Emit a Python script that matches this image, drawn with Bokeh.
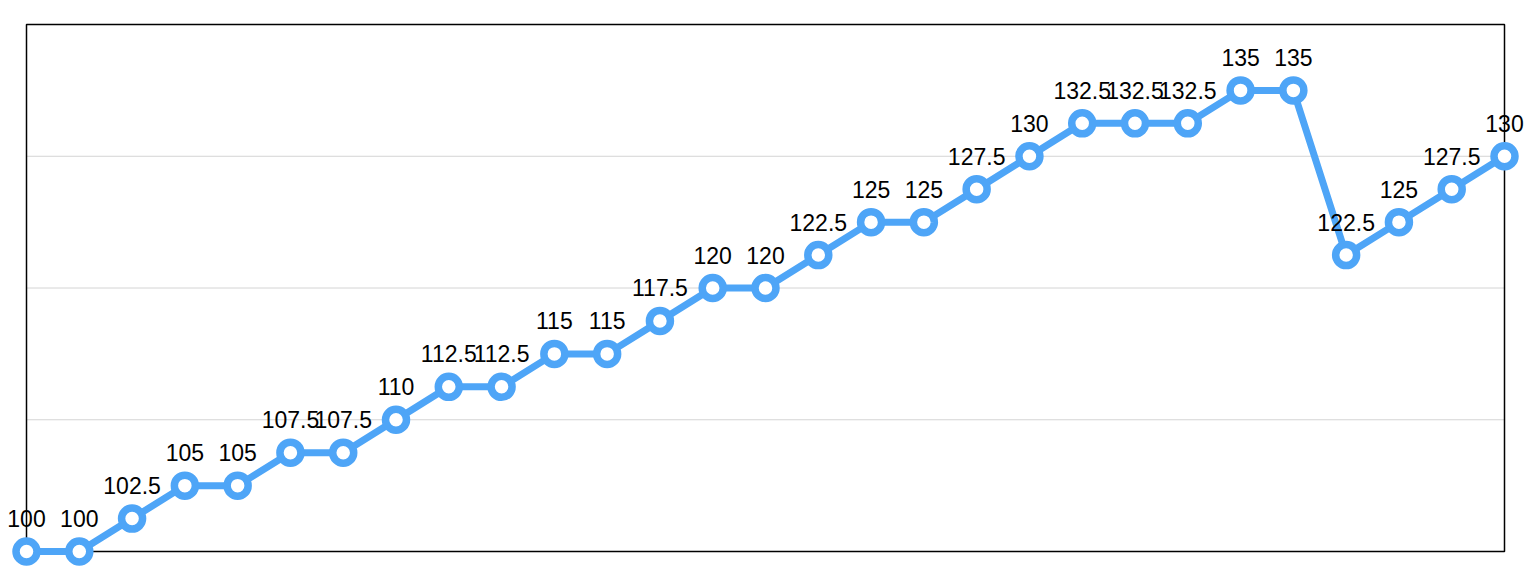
from bokeh.plotting import figure
from bokeh.models import Range1d, ColumnDataSource
from bokeh.core.properties import value
from bokeh.embed import file_html
from bokeh.resources import INLINE

# ---- data ----
values = [100, 100, 102.5, 105, 105, 107.5, 107.5, 110, 112.5, 112.5, 115, 115,
          117.5, 120, 120, 122.5, 125, 125, 127.5, 130, 132.5, 132.5, 132.5,
          135, 135, 122.5, 125, 127.5, 130]
y_ticks = [100, 110, 120, 130, 140]

# ---- layout constants (pixels) ----
W, H = 1530, 574
frame_l, frame_r = 26, 1504   # relative to plot origin
frame_t, frame_b = 24, 551

n = len(values)
x = list(range(n))
labels = [f"{v:g}" for v in values]

xs = (n - 1) / (frame_r - frame_l)
ys = (y_ticks[-1] - y_ticks[0]) / (frame_b - frame_t)
x_range = Range1d(0 - frame_l * xs, (n - 1) + (W - frame_r) * xs)
y_range = Range1d(y_ticks[0] - (H - frame_b) * ys, y_ticks[-1] + frame_t * ys)

p = figure(width=W, height=H, x_range=x_range, y_range=y_range,
           x_axis_location=None, y_axis_location=None,
           toolbar_location=None, output_backend="svg",
           min_border=0, outline_line_color=None, background_fill_color="white")
p.grid.visible = False

# gridlines
inner = y_ticks[1:-1]
p.segment(x0=[0] * len(inner), x1=[n - 1] * len(inner), y0=inner, y1=inner,
          line_color="#d4d4d4", line_width=1)
# frame
p.quad(left=[0], right=[n - 1], bottom=[y_ticks[0]], top=[y_ticks[-1]],
       fill_color=None, line_color="black", line_width=1.5)

src = ColumnDataSource(dict(x=x, y=values, label=labels))
blue = "#4EA5F7"
p.line("x", "y", source=src, line_color=blue, line_width=7)
p.scatter("x", "y", source=src, size=21, fill_color="white",
          line_color=blue, line_width=7.5)
p.text("x", "y", text="label", source=src, text_align="center",
       text_baseline="alphabetic", y_offset=-33,
       text_font=value("Liberation Sans"), text_font_size="23px",
       text_color="black")

open("out.html", "w").write(file_html(p, INLINE))
